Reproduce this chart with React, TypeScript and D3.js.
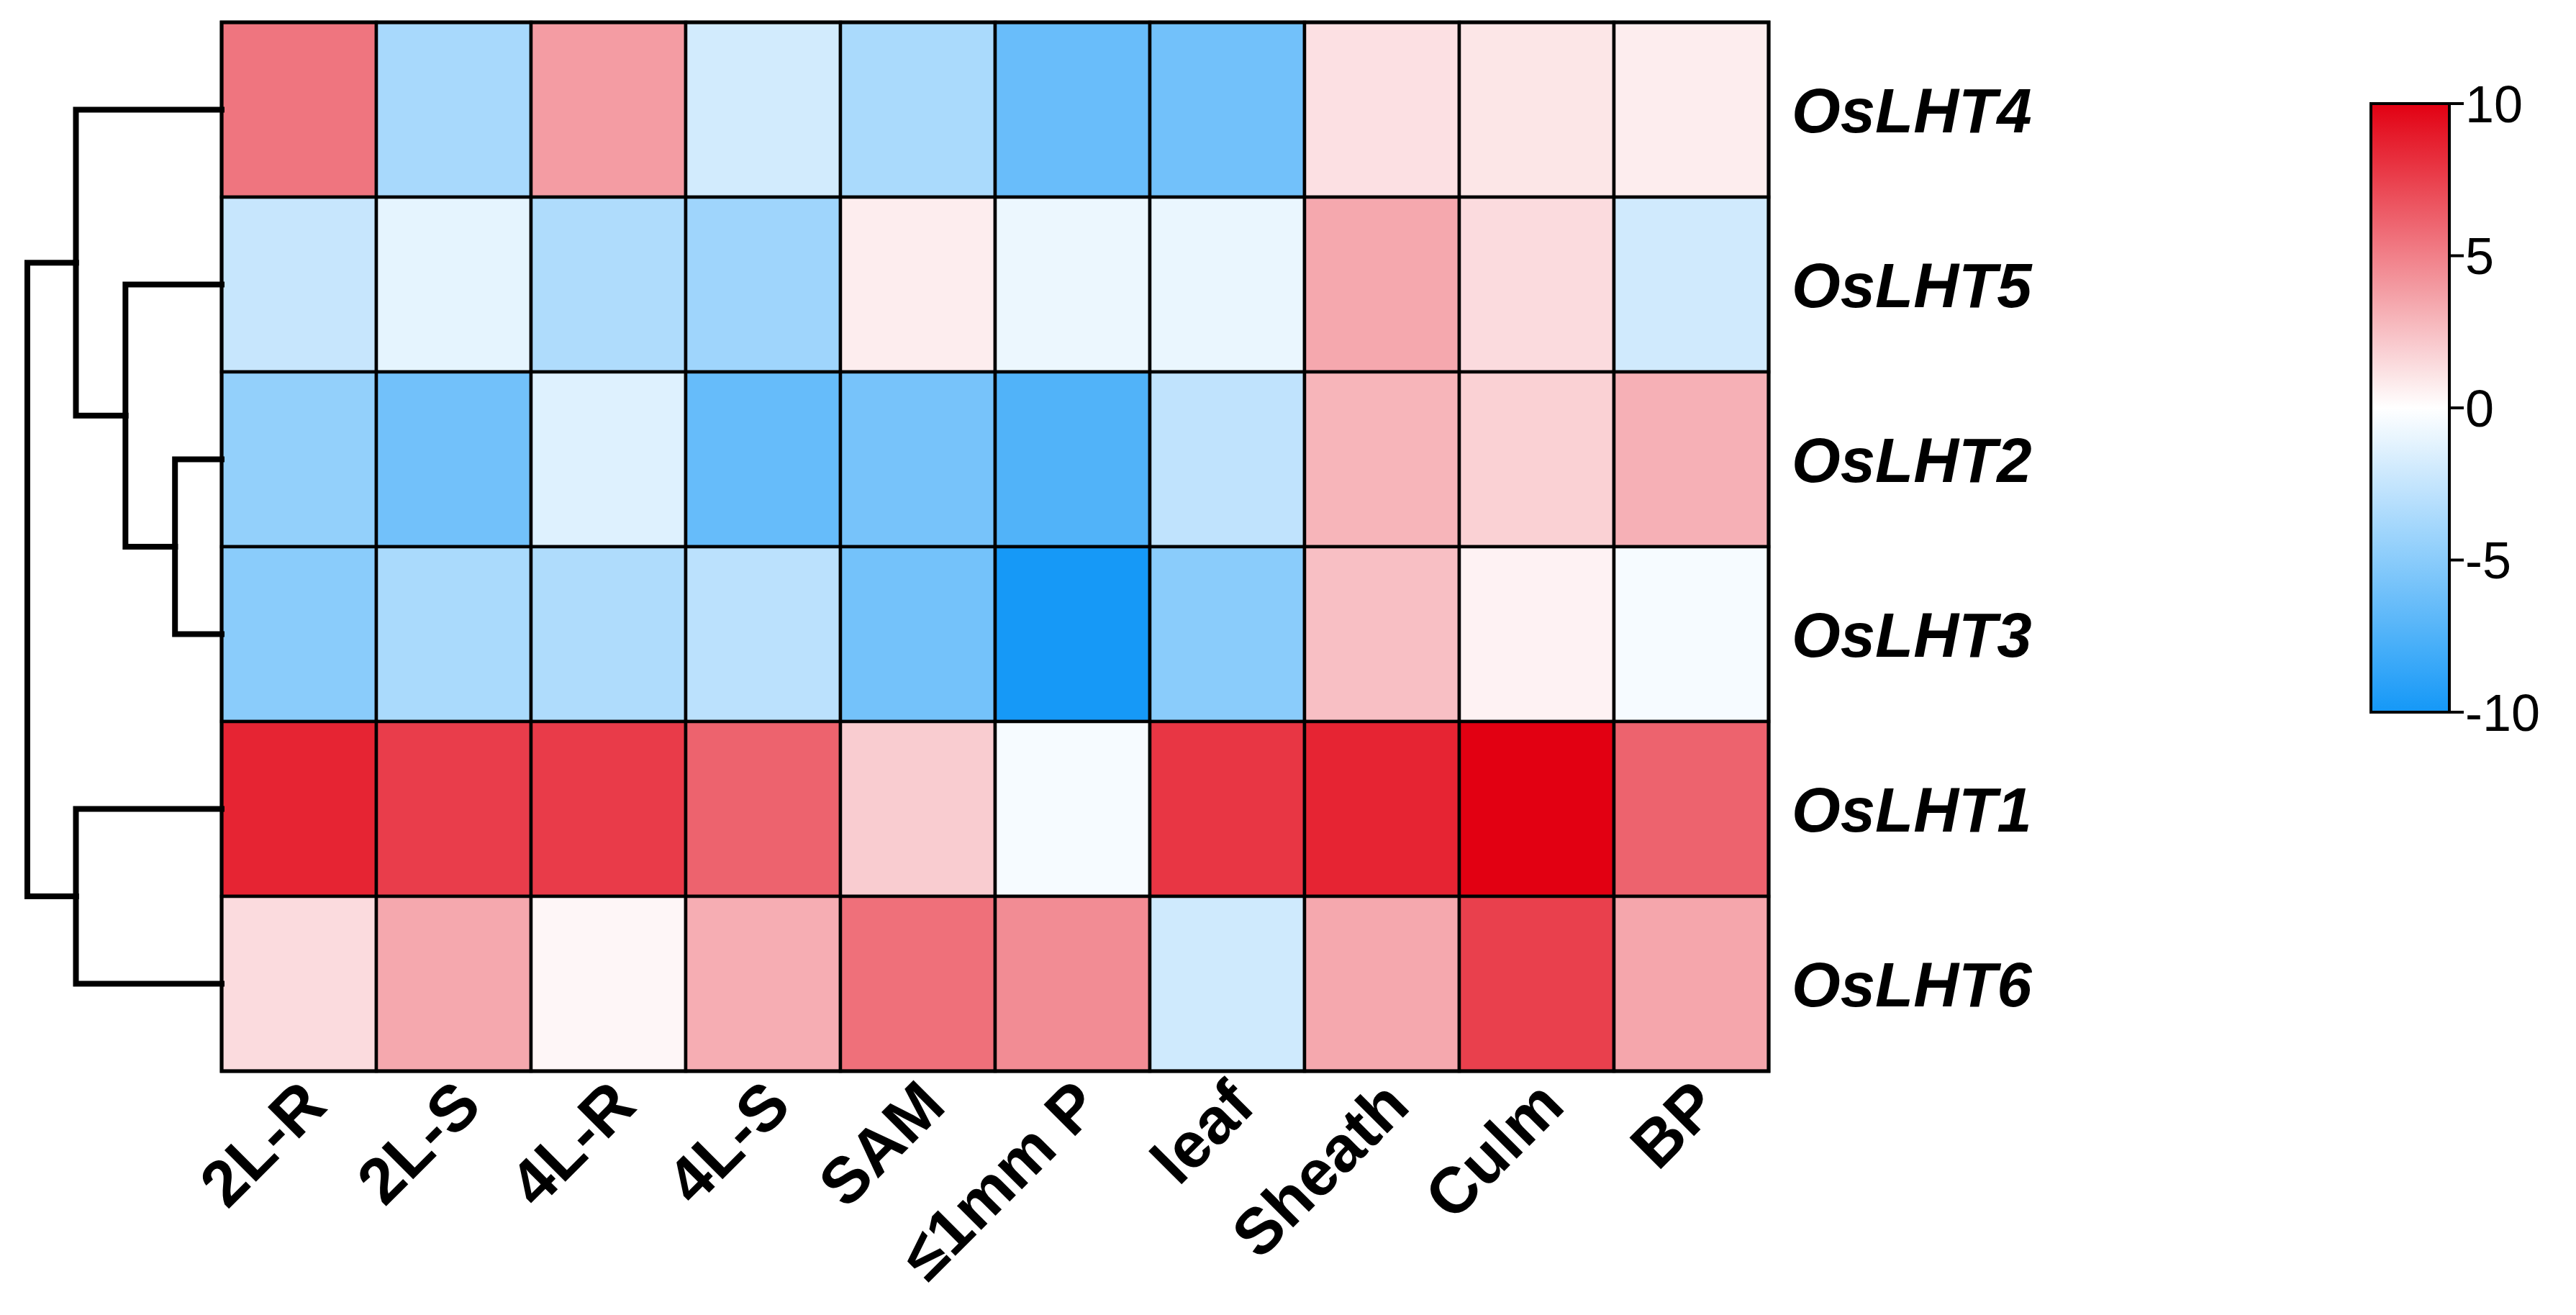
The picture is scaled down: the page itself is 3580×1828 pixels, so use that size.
import { useEffect } from 'react';
import * as d3 from 'd3';

// tissues (columns) and genes (rows, top to bottom as clustered)
const tissues = ['2L-R', '2L-S', '4L-R', '4L-S', 'SAM', '\u22641mm P', 'leaf', 'Sheath', 'Culm', 'BP'];
const genes = ['OsLHT4', 'OsLHT5', 'OsLHT2', 'OsLHT3', 'OsLHT1', 'OsLHT6'];

const osLHT4 = [5.4, -3.7, 3.9, -1.9, -3.6, -6.4, -6.0, 1.2, 1.0, 0.7];
const osLHT5 = [-2.4, -1.1, -3.4, -4.1, 0.7, -0.8, -0.9, 3.4, 1.4, -2.0];
const osLHT2 = [-4.6, -6.0, -1.4, -6.5, -5.8, -7.4, -2.7, 2.9, 1.8, 3.1];
const osLHT3 = [-5.0, -3.6, -3.4, -2.9, -5.9, -9.9, -5.0, 2.5, 0.5, -0.4];
const osLHT1 = [8.6, 7.6, 7.7, 6.1, 2.0, -0.4, 7.9, 8.6, 10.0, 6.1];
const osLHT6 = [1.4, 3.4, 0.35, 3.2, 5.6, 4.5, -2.05, 3.4, 7.5, 3.5];
const values = [osLHT4, osLHT5, osLHT2, osLHT3, osLHT1, osLHT6];

// row clustering (merge heights)
const dendro = {
  height: 4,
  children: [
    {
      height: 3,
      children: [
        { name: 'OsLHT4', height: 0 },
        {
          height: 1.98,
          children: [
            { name: 'OsLHT5', height: 0 },
            { height: 0.96, children: [{ name: 'OsLHT2', height: 0 }, { name: 'OsLHT3', height: 0 }] },
          ],
        },
      ],
    },
    { height: 3, children: [{ name: 'OsLHT1', height: 0 }, { name: 'OsLHT6', height: 0 }] },
  ],
};

const colorTicks = [10, 5, 0, -5, -10];

const W = 3580;
const H = 1828;
const FONT = '"Liberation Sans", Arial, Helvetica, sans-serif';

export default function App() {
  useEffect(() => {
    document.body.style.margin = '0';
  }, []);

  const x = d3.scaleBand<string>().domain(tissues).range([308, 2458]);
  const y = d3.scaleBand<string>().domain(genes).range([31, 1489]);
  const color = d3
    .scaleLinear<string>()
    .domain([-10, 0, 10])
    .range(['rgb(20,152,247)', '#ffffff', 'rgb(226,0,18)'])
    .interpolate(d3.interpolateRgb);

  // dendrogram
  const hx = d3.scaleLinear().domain([0, 4]).range([308, 38]);
  const root = d3.hierarchy<any>(dendro);
  const ypos = new Map<any, number>();
  root.eachAfter((n) => {
    if (!n.children) ypos.set(n, (y(n.data.name) ?? 0) + y.bandwidth() / 2);
    else ypos.set(n, d3.mean(n.children, (c) => ypos.get(c)) ?? 0);
  });
  const links: string[] = [];
  root.each((n) => {
    if (!n.children) return;
    const px = hx(n.data.height);
    n.children.forEach((c) => {
      const cy = ypos.get(c) ?? 0;
      links.push(`M${px},${ypos.get(n)}V${cy}H${hx(c.data.height)}`);
    });
  });

  // colorbar
  const cb = { x: 3295, w: 109 };
  const cy = d3.scaleLinear().domain([-10, 10]).range([990, 144]);
  const stops = d3.range(0, 21).map((i) => -10 + i);

  const cells: { r: number; c: number; v: number }[] = [];
  values.forEach((row, r) => row.forEach((v, c) => cells.push({ r, c, v })));

  return (
    <svg width={W} height={H} style={{ display: 'block', background: '#fff' }} fontFamily={FONT}>
      <defs>
        <linearGradient id="cbar" x1="0" y1="1" x2="0" y2="0">
          {stops.map((s) => (
            <stop key={s} offset={`${((s + 10) / 20) * 100}%`} stopColor={color(s)} />
          ))}
        </linearGradient>
      </defs>

      {cells.map((d) => (
        <rect
          key={`${d.r}-${d.c}`}
          x={x(tissues[d.c])}
          y={y(genes[d.r])}
          width={x.bandwidth()}
          height={y.bandwidth()}
          fill={color(d.v)}
          stroke="#000"
          strokeWidth={4.5}
        />
      ))}
      <rect x={308} y={31} width={2150} height={1458} fill="none" stroke="#000" strokeWidth={5} />

      <g fill="none" stroke="#000" strokeWidth={8} strokeLinecap="square">
        {links.map((p, i) => (
          <path key={i} d={p} />
        ))}
      </g>

      {genes.map((g) => (
        <text
          key={g}
          x={2490}
          y={(y(g) ?? 0) + y.bandwidth() / 2 + 31}
          fontSize={87}
          fontWeight="bold"
          fontStyle="italic"
          fill="#000"
        >
          {g}
        </text>
      ))}

      {tissues.map((t) => {
        const cx = (x(t) ?? 0) + x.bandwidth() / 2 + 42;
        const ty = 1489 + 52;
        return (
          <text
            key={t}
            transform={`translate(${cx},${ty}) rotate(-45)`}
            textAnchor="end"
            fontSize={90}
            fontWeight="bold"
            fill="#000"
          >
            {t}
          </text>
        );
      })}

      <rect x={cb.x} y={cy(10)} width={cb.w} height={cy(-10) - cy(10)} fill="url(#cbar)" stroke="#000" strokeWidth={4} />
      {colorTicks.map((t) => (
        <g key={t}>
          <line x1={cb.x + cb.w} x2={cb.x + cb.w + 20} y1={cy(t)} y2={cy(t)} stroke="#000" strokeWidth={4} />
          <text x={3426} y={cy(t)} dy="0.36em" fontSize={72} fill="#000">
            {t}
          </text>
        </g>
      ))}
    </svg>
  );
}
